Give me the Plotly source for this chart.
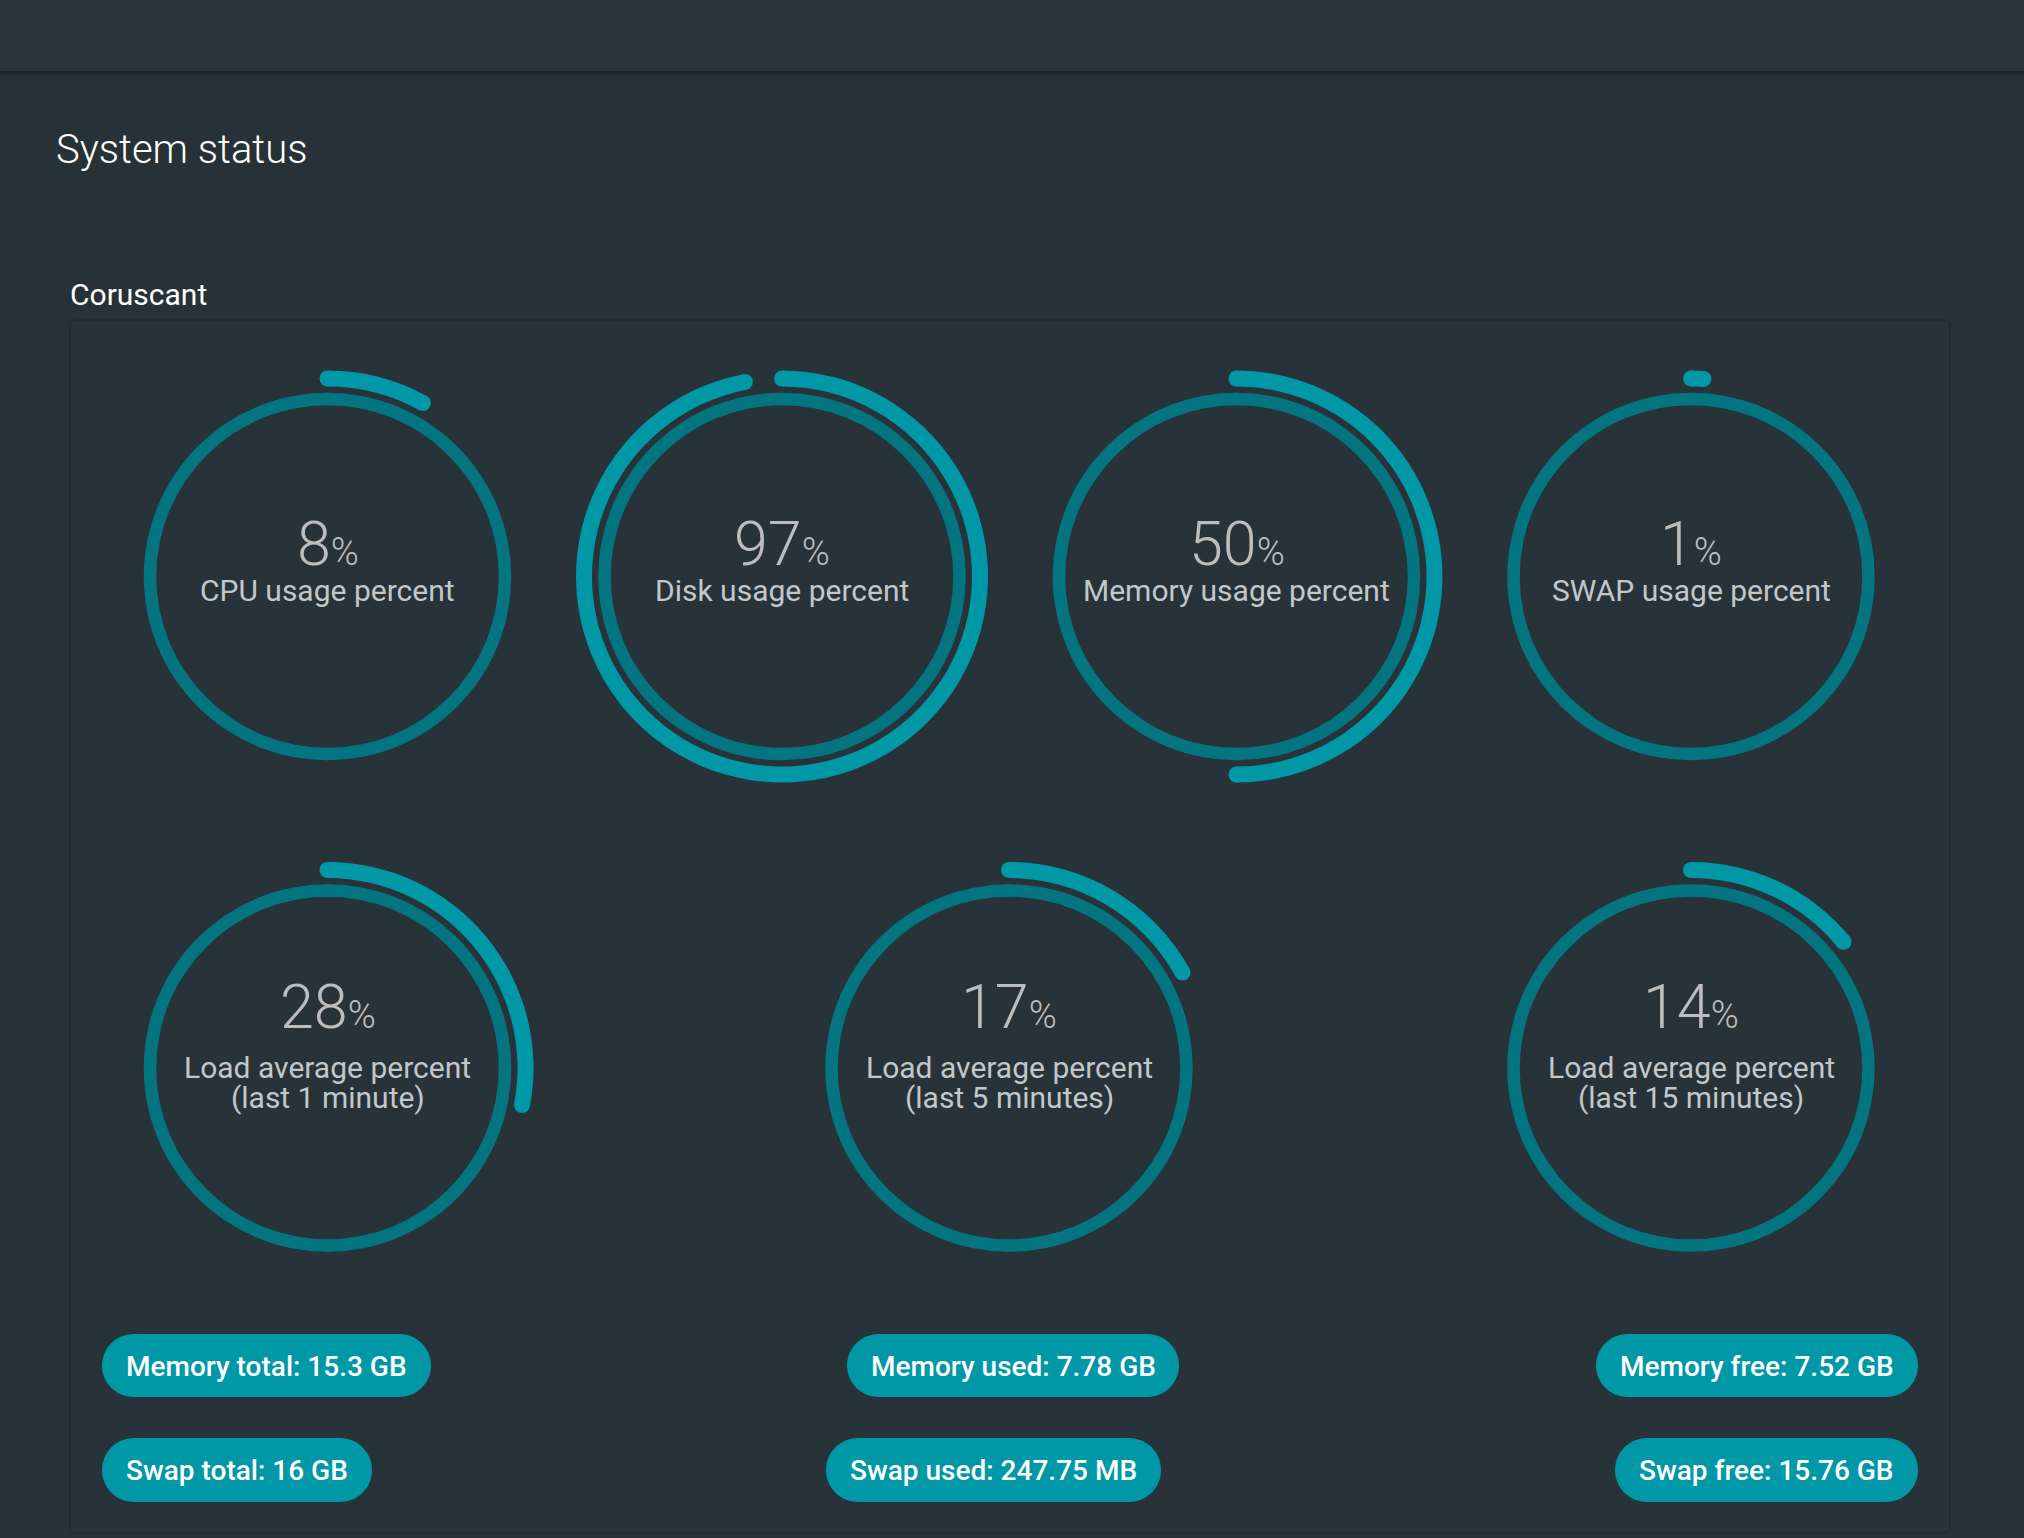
import plotly.graph_objects as go

W, H = 2024, 1538

# ---------------- data ----------------
gauge_values = [8, 97, 50, 1, 28, 17, 14]
gauge_label_line1 = [
    "CPU usage percent", "Disk usage percent", "Memory usage percent", "SWAP usage percent",
    "Load average percent", "Load average percent", "Load average percent",
]
gauge_label_line2 = ["", "", "", "", "(last 1 minute)", "(last 5 minutes)", "(last 15 minutes)"]

chip_names = ["Memory total", "Memory used", "Memory free", "Swap total", "Swap used", "Swap free"]
chip_values = ["15.3 GB", "7.78 GB", "7.52 GB", "16 GB", "247.75 MB", "15.76 GB"]

page_title = "System status"
host_name = "Coruscant"

# ---------------- layout / style ----------------
BG = "#273238"
BAR_BG = "#29343b"
CARD_BG = "#283339"
TRACK = "#027581"
VAL = "#0097a7"
NUM_COLOR = "#bdbdbd"
LBL_COLOR = "#c2c7ca"
FONT = "Roboto"

NUM_FS, PCT_FS, LBL_FS = 61, 38, 30

gauge_cx = [327.5, 782, 1236.5, 1691, 327.5, 1009, 1691]
gauge_cy = [576.5, 576.5, 576.5, 576.5, 1068, 1068, 1068]

R_TRACK, TRACK_W = 177.5, 12.5
R_VAL, VAL_W = 198, 16
S = 215  # half size of each polar box in px (radial range 0..S => 1 unit = 1 px)

# chip boxes (x0, x1, y0, y1) in px
chip_boxes = [
    (102, 431, 1334, 1397),
    (847, 1179, 1334, 1397),
    (1596, 1918, 1334, 1397),
    (102, 372, 1438, 1502),
    (826, 1161, 1438, 1502),
    (1615, 1918, 1438, 1502),
]


def px(x):
    return x / W


def py(y):
    return 1 - y / H


def round_rect_path(x0, x1, y0, y1, r):
    k = 0.5523 * r
    pts = [
        ("M", [(x0 + r, y0)]),
        ("L", [(x1 - r, y0)]),
        ("C", [(x1 - r + k, y0), (x1, y0 + r - k), (x1, y0 + r)]),
        ("L", [(x1, y1 - r)]),
        ("C", [(x1, y1 - r + k), (x1 - r + k, y1), (x1 - r, y1)]),
        ("L", [(x0 + r, y1)]),
        ("C", [(x0 + r - k, y1), (x0, y1 - r + k), (x0, y1 - r)]),
        ("L", [(x0, y0 + r)]),
        ("C", [(x0, y0 + r - k), (x0 + r - k, y0), (x0 + r, y0)]),
    ]
    s = ""
    for cmd, ps in pts:
        s += cmd + " " + " ".join(f"{px(a):.6f},{py(b):.6f}" for a, b in ps) + " "
    return s + "Z"


fig = go.Figure()
layout_polars = {}
annotations = []

for i, v in enumerate(gauge_values):
    pk = "polar" if i == 0 else f"polar{i + 1}"
    cx, cy = gauge_cx[i], gauge_cy[i]
    # track ring (two overlapping halves)
    fig.add_trace(go.Barpolar(
        r=[TRACK_W, TRACK_W], base=[R_TRACK - TRACK_W / 2] * 2, theta=[90, 270], width=[181, 181],
        marker=dict(color=TRACK, line=dict(width=0)), subplot=pk, hoverinfo="skip", showlegend=False,
    ))
    # value arc
    fig.add_trace(go.Barpolar(
        r=[VAL_W], base=[R_VAL - VAL_W / 2], theta=[v * 3.6 / 2], width=[v * 3.6],
        marker=dict(color=VAL, line=dict(width=0)), subplot=pk, hoverinfo="skip", showlegend=False,
    ))
    # round caps
    fig.add_trace(go.Scatterpolar(
        r=[R_VAL, R_VAL], theta=[0, v * 3.6], mode="markers",
        marker=dict(size=VAL_W, color=VAL, line=dict(width=0)), subplot=pk,
        hoverinfo="skip", showlegend=False,
    ))
    layout_polars[pk] = dict(
        domain=dict(x=[px(cx - S), px(cx + S)], y=[py(cy + S), py(cy - S)]),
        bgcolor="rgba(0,0,0,0)",
        barmode="overlay",
        hole=0,
        angularaxis=dict(visible=False, rotation=90, direction="clockwise", showgrid=False,
                         showline=False, ticks=""),
        radialaxis=dict(visible=False, range=[0, S], showgrid=False, showline=False, ticks=""),
    )

    two_lines = gauge_label_line2[i] != ""
    if two_lines:
        num_base, l1_base, l2_base = cy - 40, cy + 10, cy + 40
    else:
        num_base, l1_base, l2_base = cy - 11.5, cy + 24.5, None

    annotations.append(dict(
        x=px(cx), y=py(num_base - 0.342 * NUM_FS), xref="paper", yref="paper",
        xanchor="center", yanchor="middle", showarrow=False,
        text=f"{v}<span style='font-size:{PCT_FS}px'>%</span>",
        font=dict(family=FONT, size=NUM_FS, color=NUM_COLOR, weight=300),
    ))
    annotations.append(dict(
        x=px(cx), y=py(l1_base - 0.342 * LBL_FS), xref="paper", yref="paper",
        xanchor="center", yanchor="middle", showarrow=False,
        text=gauge_label_line1[i],
        font=dict(family=FONT, size=LBL_FS, color=LBL_COLOR, weight=400),
    ))
    if two_lines:
        annotations.append(dict(
            x=px(cx), y=py(l2_base - 0.342 * LBL_FS), xref="paper", yref="paper",
            xanchor="center", yanchor="middle", showarrow=False,
            text=gauge_label_line2[i],
            font=dict(family=FONT, size=LBL_FS, color=LBL_COLOR, weight=400),
        ))

shapes = []
# top bar + shadow
shapes.append(dict(type="rect", xref="paper", yref="paper", x0=0, x1=1, y0=py(71), y1=1,
                   fillcolor=BAR_BG, line=dict(width=0), layer="below"))
for k, a in enumerate([0.30, 0.22, 0.16, 0.11, 0.07, 0.04, 0.02, 0.01]):
    shapes.append(dict(type="rect", xref="paper", yref="paper", x0=0, x1=1,
                       y0=py(72 + k), y1=py(71 + k),
                       fillcolor=f"rgba(0,0,0,{a})", line=dict(width=0), layer="below"))
# card
shapes.append(dict(type="path", xref="paper", yref="paper",
                   path=round_rect_path(70, 1950, 320, 1533, 5),
                   fillcolor=CARD_BG, line=dict(color="#222b31", width=1.5), layer="below"))
# chips
for (x0, x1, y0, y1) in chip_boxes:
    shapes.append(dict(type="path", xref="paper", yref="paper",
                       path=round_rect_path(x0, x1, y0, y1, (y1 - y0) / 2),
                       fillcolor=VAL, line=dict(width=0), layer="below"))

for i, (name, val) in enumerate(zip(chip_names, chip_values)):
    x0, x1, y0, y1 = chip_boxes[i]
    annotations.append(dict(
        x=px((x0 + x1) / 2), y=py((y0 + y1) / 2 + 0.6), xref="paper", yref="paper",
        xanchor="center", yanchor="middle", showarrow=False,
        text=f"{name}: {val}",
        font=dict(family=FONT, size=28, color="#ffffff", weight=500),
    ))

# titles
annotations.append(dict(
    x=px(54), y=py(163 - 0.342 * 40), xref="paper", yref="paper",
    xanchor="left", yanchor="middle", showarrow=False, text=page_title,
    font=dict(family=FONT, size=40, color="#ffffff", weight=300),
))
annotations.append(dict(
    x=px(68), y=py(305 - 0.342 * 30), xref="paper", yref="paper",
    xanchor="left", yanchor="middle", showarrow=False, text=host_name,
    font=dict(family=FONT, size=30, color="#ffffff", weight=400),
))

fig.update_layout(
    width=W, height=H,
    margin=dict(l=0, r=0, t=0, b=0, pad=0),
    paper_bgcolor=BG, plot_bgcolor=BG,
    showlegend=False,
    shapes=shapes,
    annotations=annotations,
    font=dict(family=FONT),
    **layout_polars,
)

fig.write_html(
    "out.html",
    config={"displayModeBar": False, "staticPlot": True},
    post_script="document.body.style.margin='0';document.body.style.overflow='hidden';"
                "document.body.style.background='#273238';",
)
